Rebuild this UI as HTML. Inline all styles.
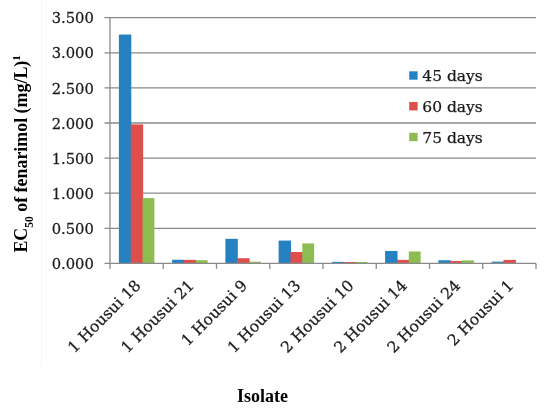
<!DOCTYPE html>
<html><head><meta charset="utf-8"><style>
html,body{margin:0;padding:0;background:#fff;}
svg{display:block;}
.g{stroke:#8a8a8a;stroke-width:1.3;}
.t{font-family:"DejaVu Serif","Liberation Serif",serif;font-size:15.5px;fill:#1a1a1a;stroke:#1a1a1a;stroke-width:0.25px;}
.b{font-family:"Liberation Serif",serif;font-weight:bold;font-size:18px;fill:#000;}
.yt{font-size:17.9px;}
.yl{font-size:15.6px;}
.sub{font-size:11.5px;}
.sup{font-size:11px;}
</style></head><body>
<svg width="550" height="412" viewBox="0 0 550 412">
<rect width="550" height="412" fill="#fff"/>
<line x1="41.5" y1="0" x2="41.5" y2="366" stroke="#f6f6f6" stroke-width="1"/>
<line x1="104.50" y1="228.30" x2="536.00" y2="228.30" class="g"/>
<line x1="104.50" y1="193.20" x2="536.00" y2="193.20" class="g"/>
<line x1="104.50" y1="158.10" x2="536.00" y2="158.10" class="g"/>
<line x1="104.50" y1="123.00" x2="536.00" y2="123.00" class="g"/>
<line x1="104.50" y1="87.90" x2="536.00" y2="87.90" class="g"/>
<line x1="104.50" y1="52.80" x2="536.00" y2="52.80" class="g"/>
<line x1="104.50" y1="17.70" x2="536.00" y2="17.70" class="g"/>
<rect x="118.88" y="34.55" width="12.43" height="228.85" fill="#2581c1"/>
<rect x="130.71" y="124.40" width="12.43" height="139.00" fill="#de4f4c"/>
<rect x="142.54" y="198.11" width="11.83" height="65.29" fill="#8cbc52"/>
<rect x="172.12" y="259.75" width="12.43" height="3.65" fill="#2581c1"/>
<rect x="183.96" y="259.89" width="12.43" height="3.51" fill="#de4f4c"/>
<rect x="195.79" y="260.24" width="11.83" height="3.16" fill="#8cbc52"/>
<rect x="225.38" y="238.83" width="12.43" height="24.57" fill="#2581c1"/>
<rect x="237.21" y="258.21" width="12.43" height="5.19" fill="#de4f4c"/>
<rect x="249.04" y="261.72" width="11.83" height="1.68" fill="#8cbc52"/>
<rect x="278.62" y="240.58" width="12.43" height="22.82" fill="#2581c1"/>
<rect x="290.46" y="252.03" width="12.43" height="11.37" fill="#de4f4c"/>
<rect x="302.29" y="243.39" width="11.83" height="20.01" fill="#8cbc52"/>
<rect x="331.88" y="261.86" width="12.43" height="1.54" fill="#2581c1"/>
<rect x="343.71" y="262.00" width="12.43" height="1.40" fill="#de4f4c"/>
<rect x="355.54" y="262.00" width="11.83" height="1.40" fill="#8cbc52"/>
<rect x="385.12" y="250.97" width="12.43" height="12.43" fill="#2581c1"/>
<rect x="396.96" y="259.89" width="12.43" height="3.51" fill="#de4f4c"/>
<rect x="408.79" y="251.47" width="11.83" height="11.93" fill="#8cbc52"/>
<rect x="438.38" y="260.24" width="12.43" height="3.16" fill="#2581c1"/>
<rect x="450.21" y="260.94" width="12.43" height="2.46" fill="#de4f4c"/>
<rect x="462.04" y="260.38" width="11.83" height="3.02" fill="#8cbc52"/>
<rect x="491.62" y="261.64" width="12.43" height="1.76" fill="#2581c1"/>
<rect x="503.46" y="259.89" width="12.43" height="3.51" fill="#de4f4c"/>
<line x1="110.00" y1="17.70" x2="110.00" y2="263.40" class="g"/>
<line x1="104.50" y1="263.40" x2="536.00" y2="263.40" class="g"/>
<line x1="110.00" y1="263.40" x2="110.00" y2="268.90" class="g"/>
<line x1="163.25" y1="263.40" x2="163.25" y2="268.90" class="g"/>
<line x1="216.50" y1="263.40" x2="216.50" y2="268.90" class="g"/>
<line x1="269.75" y1="263.40" x2="269.75" y2="268.90" class="g"/>
<line x1="323.00" y1="263.40" x2="323.00" y2="268.90" class="g"/>
<line x1="376.25" y1="263.40" x2="376.25" y2="268.90" class="g"/>
<line x1="429.50" y1="263.40" x2="429.50" y2="268.90" class="g"/>
<line x1="482.75" y1="263.40" x2="482.75" y2="268.90" class="g"/>
<line x1="536.00" y1="263.40" x2="536.00" y2="268.90" class="g"/>
<text transform="translate(93.8,269.00) scale(0.945,1)" class="t yl" text-anchor="end">0.000</text>
<text transform="translate(93.8,233.90) scale(0.945,1)" class="t yl" text-anchor="end">0.500</text>
<text transform="translate(93.8,198.80) scale(0.945,1)" class="t yl" text-anchor="end">1.000</text>
<text transform="translate(93.8,163.70) scale(0.945,1)" class="t yl" text-anchor="end">1.500</text>
<text transform="translate(93.8,128.60) scale(0.945,1)" class="t yl" text-anchor="end">2.000</text>
<text transform="translate(93.8,93.50) scale(0.945,1)" class="t yl" text-anchor="end">2.500</text>
<text transform="translate(93.8,58.40) scale(0.945,1)" class="t yl" text-anchor="end">3.000</text>
<text transform="translate(93.8,23.30) scale(0.945,1)" class="t yl" text-anchor="end">3.500</text>
<text transform="translate(141.62,286.40) rotate(-45)" class="t" text-anchor="end">1 Housui 18</text>
<text transform="translate(194.88,286.40) rotate(-45)" class="t" text-anchor="end">1 Housui 21</text>
<text transform="translate(248.12,286.40) rotate(-45)" class="t" text-anchor="end">1 Housui 9</text>
<text transform="translate(301.38,286.40) rotate(-45)" class="t" text-anchor="end">1 Housui 13</text>
<text transform="translate(354.62,286.40) rotate(-45)" class="t" text-anchor="end">2 Housui 10</text>
<text transform="translate(407.88,286.40) rotate(-45)" class="t" text-anchor="end">2 Housui 14</text>
<text transform="translate(461.12,286.40) rotate(-45)" class="t" text-anchor="end">2 Housui 24</text>
<text transform="translate(514.38,286.40) rotate(-45)" class="t" text-anchor="end">2 Housui 1</text>
<rect x="409.2" y="71.30" width="8.4" height="8.4" fill="#2581c1"/>
<text x="422.3" y="80.80" class="t">45 days</text>
<rect x="409.2" y="102.00" width="8.4" height="8.4" fill="#de4f4c"/>
<text x="422.3" y="112.00" class="t">60 days</text>
<rect x="409.2" y="132.80" width="8.4" height="8.4" fill="#8cbc52"/>
<text x="422.3" y="142.80" class="t">75 days</text>
<text x="262.6" y="401.6" class="b" text-anchor="middle">Isolate</text>
<text transform="translate(27.0,252.6) rotate(-90)" class="b yt">EC<tspan class="sub" dy="5.6">50</tspan><tspan dy="-5.6"> of fenarimol (mg/L)</tspan><tspan class="sup" dy="-7">1</tspan></text>
</svg>
</body></html>
